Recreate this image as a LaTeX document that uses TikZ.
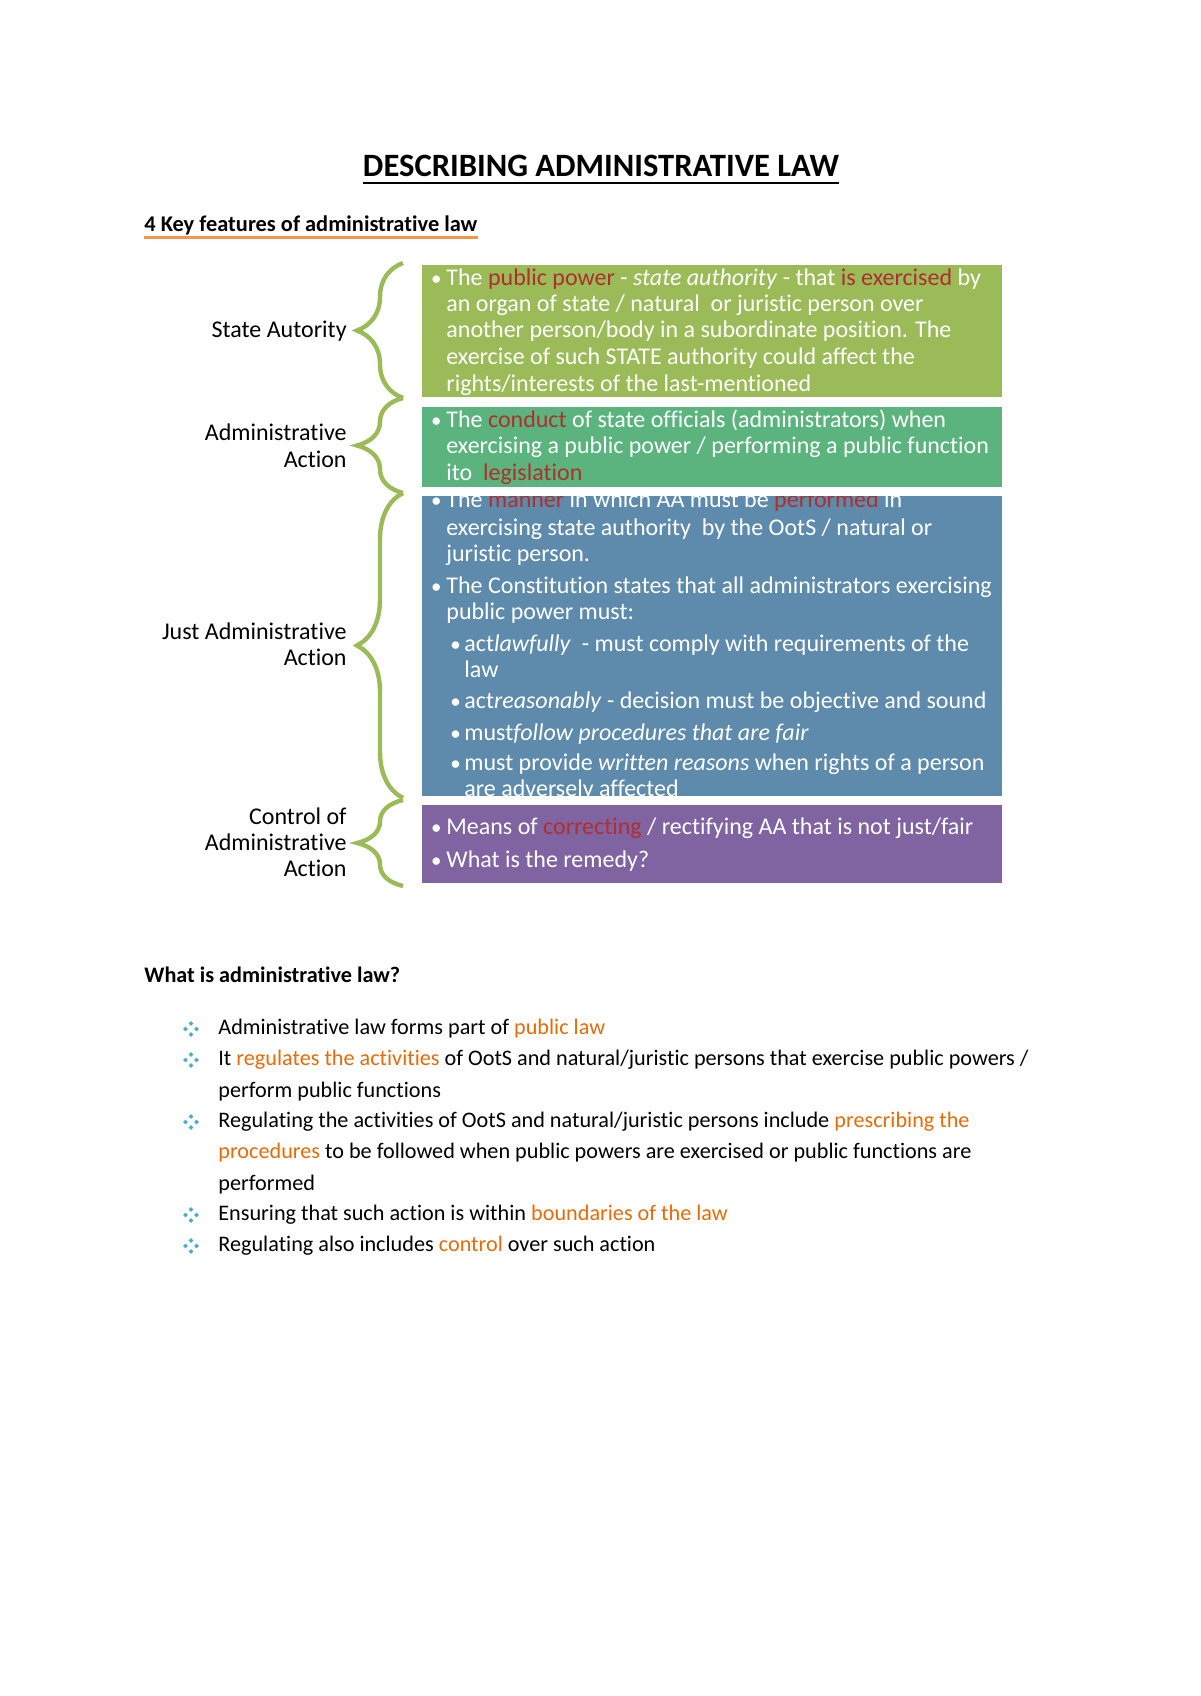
\documentclass[tikz,border=0pt]{standalone}
\usepackage{fontspec}
\setmainfont{Carlito}[RawFeature={-liga}]
\usetikzlibrary{decorations.pathreplacing}
\definecolor{cGreen}{HTML}{9BBB59}
\definecolor{cTeal}{HTML}{5BB47D}
\definecolor{cBlue}{HTML}{5E8BAC}
\definecolor{cPurple}{HTML}{8064A2}
\definecolor{cRed}{HTML}{B02E2E}
\definecolor{cOrange}{HTML}{E46C0A}
\definecolor{cOrangeLine}{HTML}{F79646}
\definecolor{cAqua}{HTML}{4BACC6}
\newcommand{\hl}[1]{\textcolor{cRed}{#1}}
\newcommand{\og}[1]{\textcolor{cOrange}{#1}}
\newcommand{\bul}{\makebox[6.5pt][l]{\hspace{-1.2pt}\raisebox{0.3pt}{\fontsize{10.5}{10.5}\selectfont •}}}
\newcommand{\sbul}{\makebox[6pt][l]{\hspace{-1pt}\raisebox{0.3pt}{\fontsize{10.5}{10.5}\selectfont •}}}
\begin{document}
\begin{tikzpicture}[x=0.5pt,y=-0.5pt,
  boxbg/.style={anchor=north west, inner sep=0pt, minimum width=290pt},
  boxtxt/.style={anchor=mid west, inner sep=0pt, text=white, font=\fontsize{12}{14}\selectfont},
  lbl/.style={anchor=mid east, inner sep=0pt, font=\fontsize{12}{14}\selectfont},
  body/.style={anchor=mid west, inner sep=0pt, font=\fontsize{11.1}{13}\selectfont},
  curly/.style={draw=cGreen, line width=2.2pt, decorate, decoration={brace, amplitude=23pt}},
  fourdot/.pic={
    \foreach \dx/\dy in {0/-5.5, 0/5.5, -5.5/0, 5.5/0}
      \fill[cAqua] (\dx-2.4,\dy) -- (\dx,\dy-2.4) -- (\dx+2.4,\dy) -- (\dx,\dy+2.4) -- cycle;
  }]
\useasboundingbox[fill=white] (0,0) rectangle (1200,1696);

% Title
\node[inner sep=0pt, font=\fontsize{16.3}{19}\bfseries\selectfont] (title) at (601,166) {DESCRIBING ADMINISTRATIVE LAW};
\coordinate (tul) at ([yshift=-3pt]title.base west);
\coordinate (tur) at ([yshift=-3pt]title.base east);
\draw[line width=1pt] (tul) -- (tur);

\node[anchor=mid west, inner sep=0pt, font=\fontsize{11.2}{13}\bfseries\selectfont] (sub) at (144,227) {4 Key features of administrative law};
\coordinate (sul) at ([yshift=-3pt]sub.base west);
\coordinate (sur) at ([yshift=-3pt]sub.base east);
\draw[cOrangeLine, line width=1.7pt] (sul) -- (sur);

% Labels
\node[lbl] (l1) at (347,333) {State Autority};
\node[lbl] (l2a) at (347,436) {Administrative};
\node[lbl] (l2b) at (347,463) {Action};
\node[lbl] (l3a) at (347,635) {Just Administrative};
\node[lbl] (l3b) at (347,661) {Action};
\node[lbl] (l4a) at (347,820) {Control of};
\node[lbl] (l4b) at (347,846) {Administrative};
\node[lbl] (l4c) at (347,872) {Action};

% Braces
\coordinate (b1t) at (403,263); \coordinate (b1b) at (403,398);
\coordinate (b2t) at (403,398); \coordinate (b2b) at (403,493);
\coordinate (b3t) at (403,493); \coordinate (b3b) at (403,798);
\coordinate (b4t) at (403,800); \coordinate (b4b) at (403,886);
\draw[curly] (b1b) -- (b1t);
\draw[curly] (b2b) -- (b2t);
\draw[curly] (b3b) -- (b3t);
\draw[curly] (b4b) -- (b4t);

% Boxes
\node[boxbg, fill=cGreen, minimum height=66pt] (gbox) at (422,265) {};
\node[boxbg, fill=cTeal, minimum height=40pt] (tbox) at (422,407) {};
\node[boxbg, fill=cBlue, minimum height=150pt] (bbox) at (422,496) {};
\node[boxbg, fill=cPurple, minimum height=39pt] (pbox) at (422,805) {};

% Green box text
\node[boxtxt] (g1) at (433,281) {\bul The \hl{public power} - \textit{state authority} - that \hl{is exercised} by};
\node[boxtxt] (g2) at (446,307) {an organ of state / natural\ \ or juristic person over};
\node[boxtxt] (g3) at (446,333) {another person/body in a subordinate position. The};
\node[boxtxt] (g4) at (446,360) {exercise of such STATE authority could affect the};
\node[boxtxt] (g5) at (446,387) {rights/interests of the last-mentioned};

% Teal box text
\node[boxtxt] (t1) at (433,423) {\bul The \hl{conduct} of state officials (administrators) when};
\node[boxtxt] (t2) at (446,449) {exercising a public power / performing a public function};
\node[boxtxt] (t3) at (446,476) {ito\ \ \hl{legislation}};

% Blue box text (clipped)
\begin{scope}
\clip (422,496) rectangle (1002,796);
\node[boxtxt] (u1) at (433,503) {\bul The \hl{manner} in which AA must be \hl{performed} in};
\node[boxtxt] (u2) at (446,531) {exercising state authority\ \ by the OotS / natural or};
\node[boxtxt] (u3) at (446,557) {juristic person.};
\node[boxtxt] (u4) at (433,589) {\bul The Constitution states that all administrators exercising};
\node[boxtxt] (u5) at (446,615) {public power must:};
\node[boxtxt] (u6) at (452,647) {\sbul act\textit{lawfully}\ \ - must comply with requirements of the};
\node[boxtxt] (u7) at (464,673) {law};
\node[boxtxt] (u8) at (452,704) {\sbul act\textit{reasonably} - decision must be objective and sound};
\node[boxtxt] (u9) at (452,736) {\sbul must\textit{follow procedures that are fair}};
\node[boxtxt] (u10) at (452,766) {\sbul must provide \textit{written reasons} when rights of a person};
\node[boxtxt] (u11) at (464,792) {are adversely affected};
\end{scope}

% Purple box text
\node[boxtxt] (p1) at (433,830) {\bul Means of \hl{correcting} / rectifying AA that is not just/fair};
\node[boxtxt] (p2) at (433,863) {\bul What is the remedy?};

% Lower section
\node[anchor=mid west, inner sep=0pt, font=\fontsize{11.1}{13}\bfseries\selectfont] (q) at (144,978) {What is administrative law?};

\pic at (191,1029) {fourdot};
\node[body] (w1) at (218,1030) {Administrative law forms part of \og{public law}};
\pic at (191,1060) {fourdot};
\node[body] (w2) at (218,1061) {It \og{regulates the activities} of OotS and natural/juristic persons that exercise public powers /};
\node[body] (w3) at (218,1093) {perform public functions};
\pic at (191,1122) {fourdot};
\node[body] (w4) at (218,1123) {Regulating the activities of OotS and natural/juristic persons include \og{prescribing the}};
\node[body] (w5) at (218,1154) {\og{procedures} to be followed when public powers are exercised or public functions are};
\node[body] (w6) at (218,1186) {performed};
\pic at (191,1215) {fourdot};
\node[body] (w7) at (218,1216) {Ensuring that such action is within \og{boundaries of the law}};
\pic at (191,1246) {fourdot};
\node[body] (w8) at (218,1247) {Regulating also includes \og{control} over such action};
\end{tikzpicture}
\end{document}
